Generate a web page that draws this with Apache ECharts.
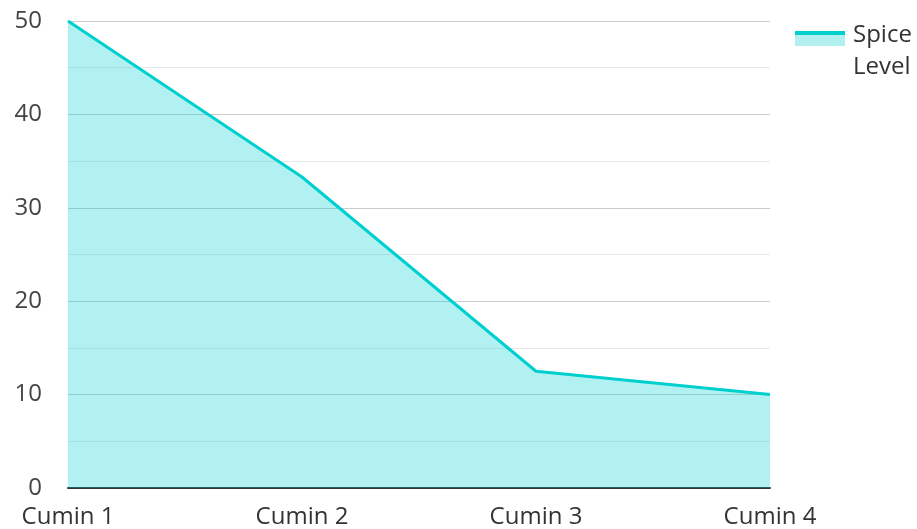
<!DOCTYPE html>
<html><head><meta charset="utf-8">
<script src="https://cdn.jsdelivr.net/npm/echarts@6/dist/echarts.min.js"></script>
<style>html,body{margin:0;padding:0;background:#fff}#c{width:917px;height:529px}</style>
</head><body><div id="c"></div>
<script>
const categories = ['Cumin 1', 'Cumin 2', 'Cumin 3', 'Cumin 4'];
const spiceLevel = [50, 33.3, 12.5, 10];
const seriesName = 'Spice Level';
const yTicks = {min: 0, max: 50, interval: 10};

const chart = echarts.init(document.getElementById('c'));
const font = '"Open Sans", "Noto Sans", sans-serif';
chart.setOption({
  animation: false,
  textStyle: {fontFamily: font},
  grid: {left: 68, right: 147, top: 21, bottom: 41, containLabel: false},
  legend: {
    show: true,
    left: 795, top: 19,
    padding: 0,
    orient: 'vertical',
    icon: 'rect',
    itemWidth: 50, itemHeight: 11,
    itemStyle: {color: 'rgba(0,0,0,0)'},
    textStyle: {fontSize: 24, color: '#333', fontFamily: font, width: 66, overflow: 'break', lineHeight: 32, padding: [0, 0, 0, 3]},
    data: [seriesName]
  },
  xAxis: {
    type: 'category', data: categories, boundaryGap: false,
    axisLine: {lineStyle: {color: '#333', width: 2}},
    axisTick: {show: false},
    axisLabel: {fontSize: 24, color: '#333', margin: 17, fontFamily: font},
    splitLine: {show: false}
  },
  yAxis: {
    type: 'value', min: yTicks.min, max: yTicks.max, interval: yTicks.interval,
    axisLine: {show: false}, axisTick: {show: false},
    axisLabel: {fontSize: 24, color: '#444', margin: 26, fontFamily: font},
    splitLine: {lineStyle: {color: '#cccccc', width: 1}},
    minorTick: {show: false, splitNumber: 2},
    minorSplitLine: {show: true, lineStyle: {color: '#e8e8e8', width: 1}}
  },
  series: [{
    name: seriesName, type: 'line', data: spiceLevel,
    symbol: 'none',
    lineStyle: {color: '#00cfd0', width: 3},
    itemStyle: {color: '#00cfd0'},
    areaStyle: {color: '#00cfd0', opacity: 0.3}
  }],
  graphic: [
    {type: 'rect', shape: {x: 795, y: 35, width: 50, height: 11}, style: {fill: '#b2f0f0'}, z: 100},
    {type: 'rect', shape: {x: 795, y: 31, width: 50, height: 4}, style: {fill: '#00cfd0'}, z: 100}
  ]
});
</script></body></html>
